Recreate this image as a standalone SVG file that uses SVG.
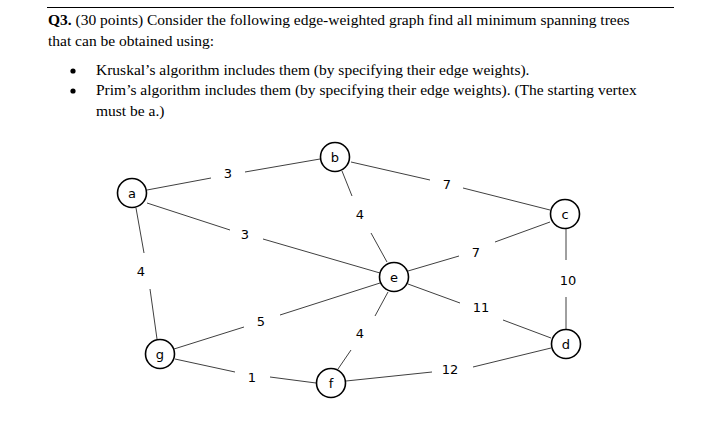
<svg xmlns="http://www.w3.org/2000/svg" width="702" height="425" viewBox="0 0 702 425">
<style>
.t{font-family:"Liberation Serif",serif;font-size:15.5px;fill:#000}
.l{stroke:#404040;stroke-width:1;fill:none}
.n circle{fill:#fff;stroke:#000;stroke-width:1.6}
.n text,.w{font-family:"DejaVu Sans","Liberation Sans",sans-serif;font-size:13px;fill:#000;text-anchor:middle}
</style>
<rect width="702" height="425" fill="#fff"/>
<line x1="47" y1="7.5" x2="674" y2="7.5" stroke="#000" stroke-width="1.2"/>
<text class="t" x="48" y="25"><tspan font-weight="bold">Q3.</tspan> (30 points) Consider the following edge-weighted graph find all minimum spanning trees</text>
<text class="t" x="48" y="46">that can be obtained using:</text>
<circle cx="73" cy="71" r="2.6"/><circle cx="73" cy="91" r="2.6"/>
<text class="t" x="96" y="75">Kruskal’s algorithm includes them (by specifying their edge weights).</text>
<text class="t" x="96" y="95">Prim’s algorithm includes them (by specifying their edge weights). (The starting vertex</text>
<text class="t" x="96" y="116">must be a.)</text>
<g id="edges" class="l">
<path d="M147,190L211,178M245,172L320,159"/>
<path d="M147,203L230,230M263,239L380,273"/>
<path d="M136,208L144,253M150,289L157,339"/>
<path d="M342,171L352,196M371,233L387,262"/>
<path d="M351,162L430,180M463,188L550,210"/>
<path d="M550,222L495,242M459,256L408,271"/>
<path d="M566,229L566,260M566,297L566,329"/>
<path d="M408,284L460,303M503,320L551,338"/>
<path d="M380,283L280,315M244,327L174,349"/>
<path d="M388,292L375,316M351,350L338,369"/>
<path d="M175,359L235,372M270,377L316,383"/>
<path d="M346,381L432,372M473,367L551,348"/>
</g>
<g id="labels">
<text class="w" x="228" y="178">3</text>
<text class="w" x="245" y="239">3</text>
<text class="w" x="141" y="276">4</text>
<text class="w" x="360" y="219">4</text>
<text class="w" x="447" y="189">7</text>
<text class="w" x="476" y="257">7</text>
<text class="w" x="568" y="285">10</text>
<text class="w" x="481" y="312">11</text>
<text class="w" x="261" y="326">5</text>
<text class="w" x="360" y="338">4</text>
<text class="w" x="252" y="382">1</text>
<text class="w" x="450" y="374">12</text>
</g>
<g id="a" class="n"><circle cx="132" cy="193" r="14.5"/><text x="132" y="197.5">a</text></g>
<g id="b" class="n"><circle cx="335" cy="157" r="14.5"/><text x="335" y="161.5">b</text></g>
<g id="c" class="n"><circle cx="565" cy="214" r="14.5"/><text x="565" y="218.5">c</text></g>
<g id="e" class="n"><circle cx="394" cy="277" r="14.5"/><text x="394" y="281.5">e</text></g>
<g id="d" class="n"><circle cx="566" cy="344" r="14.5"/><text x="566" y="348.5">d</text></g>
<g id="g" class="n"><circle cx="160" cy="354" r="14.5"/><text x="160" y="358.5">g</text></g>
<g id="f" class="n"><circle cx="331" cy="383" r="14.5"/><text x="331" y="387.5">f</text></g>
</svg>
